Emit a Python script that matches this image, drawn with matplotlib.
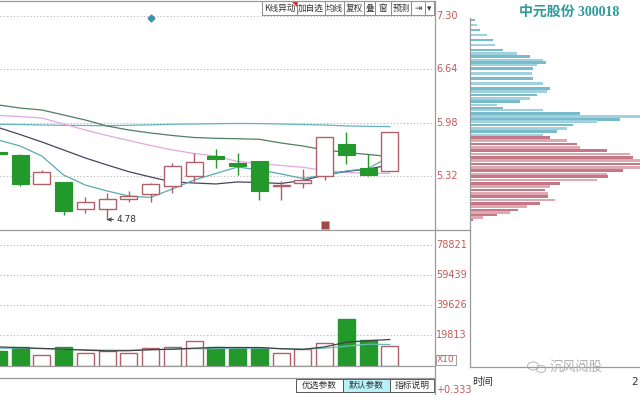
import matplotlib
matplotlib.use("Agg")
import matplotlib.pyplot as plt
import numpy as np
from matplotlib.patches import Rectangle, Ellipse

plt.rcParams['font.family'] = ['Noto Sans CJK SC', 'DejaVu Sans']

# ---- daily candles (last one is today) ----
opens  = [5.62, 5.58, 5.22, 5.25, 4.91, 4.91, 5.04, 5.10, 5.19, 5.32, 5.57, 5.48, 5.50, 5.19, 5.23, 5.32, 5.71, 5.42, 5.38]
closes = [5.59, 5.22, 5.37, 4.89, 5.00, 5.04, 5.07, 5.22, 5.44, 5.49, 5.53, 5.44, 5.14, 5.20, 5.27, 5.80, 5.58, 5.33, 5.86]
highs  = [5.63, 5.59, 5.39, 5.25, 5.06, 5.11, 5.14, 5.23, 5.48, 5.61, 5.65, 5.61, 5.51, 5.26, 5.40, 5.80, 5.86, 5.59, 5.86]
lows   = [5.57, 5.19, 5.22, 4.84, 4.86, 4.78, 5.00, 5.00, 5.11, 5.25, 5.42, 5.33, 5.02, 5.02, 5.17, 5.27, 5.47, 5.32, 5.38]

ma5  = [5.765, 5.691, 5.567, 5.332, 5.208, 5.134, 5.072, 5.054, 5.159, 5.270, 5.351, 5.431, 5.394, 5.345, 5.289, 5.332, 5.382, 5.413, 5.559]
ma10 = [5.920, 5.833, 5.741, 5.642, 5.543, 5.456, 5.373, 5.307, 5.246, 5.233, 5.221, 5.246, 5.239, 5.227, 5.264, 5.332, 5.376, 5.406, 5.456]
ma20 = [6.069, 6.056, 6.038, 5.963, 5.889, 5.821, 5.759, 5.697, 5.642, 5.598, 5.567, 5.499, 5.474, 5.450, 5.427, 5.388, 5.363, 5.353, 5.353]
ma30 = [6.199, 6.161, 6.137, 6.075, 6.013, 5.939, 5.889, 5.852, 5.821, 5.796, 5.786, 5.781, 5.774, 5.728, 5.691, 5.642, 5.611, 5.586, 5.559]
ma60 = [5.960, 5.957, 5.951, 5.947, 5.945, 5.942, 5.947, 5.953, 5.960, 5.963, 5.967, 5.970, 5.968, 5.963, 5.957, 5.951, 5.939, 5.935, 5.930]

volumes = [9546, 11770, 7190, 12160, 8500, 9550, 8240, 11120, 12420, 15890, 11970, 11310, 11310, 7850, 10660, 14780, 30080, 16540, 12620]
vol_ma5  = [12160, 11640, 11180, 10660, 10000, 9550, 9680, 10330, 10660, 11310, 11770, 11770, 11770, 10990, 10530, 12160, 15240, 16220, 17000]
vol_ma10 = [11310, 11310, 10990, 10660, 10330, 10000, 10000, 10330, 10660, 10990, 10990, 11310, 11310, 10990, 10660, 11310, 12620, 13930, 13730]

price_ticks = [7.30, 6.64, 5.98, 5.32]
price_labels = ["7.30", "6.64", "5.98", "5.32"]
vol_ticks = [78821, 59439, 39626, 19813]
vol_labels = ["78821", "59439", "39626", "19813"]

low_mark = 4.78

# ---- chip distribution (price level, bar length) ----
chip_prices = [7.250, 7.189, 7.127, 7.065, 7.003, 6.941, 6.879, 6.838, 6.796, 6.755, 6.722, 6.694,
               6.653, 6.591, 6.529, 6.467, 6.405, 6.363, 6.322, 6.281, 6.239, 6.199, 6.158, 6.137,
               6.096, 6.054, 6.022, 5.992, 5.951, 5.910, 5.868, 5.827,
               5.799, 5.757, 5.716, 5.675, 5.633, 5.592, 5.551, 5.509, 5.468, 5.427, 5.385, 5.345,
               5.311, 5.270, 5.229, 5.187, 5.147, 5.106, 5.064, 5.023, 4.982, 4.940, 4.899, 4.866,
               4.837, 4.809, 4.775]
chip_lens = [5, 7, 10, 17, 23, 25, 33, 47, 60, 73, 76, 67,
             63, 62, 63, 73, 80, 77, 67, 60, 50, 27, 33, 73,
             110, 170, 150, 127, 103, 97, 87, 73,
             80, 97, 107, 110, 137, 160, 163, 170, 170, 170, 153, 137,
             138, 127, 90, 80, 75, 78, 78, 85, 70, 57, 48, 40,
             27, 13, 3]
chip_split = 5.81

W, H = 640, 395
fig = plt.figure(figsize=(6.4, 3.95), dpi=100)


def px_axes(x0, y0, x1, y1):
    a = fig.add_axes([x0 / W, 1 - y1 / H, (x1 - x0) / W, (y1 - y0) / H])
    a.axis('off')
    return a


GREEN = '#22992a'
RED = '#b0606a'
GRID = '#b4b4b4'
LBL = '#c05a5a'

x = np.arange(len(opens))
xlim = (0.078, 20.03)
plim = (4.651, 7.486)

# price panel
ax = px_axes(0, 1, 434, 230)
ax.set_xlim(*xlim)
ax.set_ylim(*plim)
for lv, lb in zip(price_ticks, price_labels):
    ax.axhline(lv, color=GRID, lw=0.8, ls=(0, (1, 2)), zorder=0)
    ax.text(1.005, lv, lb, transform=ax.get_yaxis_transform(), color=LBL,
            fontsize=7, family='DejaVu Sans', va='center', ha='left', clip_on=False)

ax.plot(x, ma60, color='#62b4bc', lw=0.9, zorder=2)
ax.plot(x, ma30, color='#4f7f62', lw=0.9, zorder=2)
ax.plot(x, ma20, color='#e2a6e2', lw=0.9, zorder=2)
ax.plot(x, ma10, color='#4a4262', lw=0.9, zorder=2)
ax.plot(x, ma5, color='#5aaab4', lw=0.9, zorder=2)

bw = 0.78
for i in x:
    o, c, h, l = opens[i], closes[i], highs[i], lows[i]
    lo, hi = min(o, c), max(o, c)
    body = max(hi - lo, 0.012)
    if c < o:
        ax.vlines(i, l, h, color=GREEN, lw=1.0, zorder=3)
        ax.add_patch(Rectangle((i - bw / 2, lo), bw, body, fc=GREEN, ec=GREEN, lw=0.8, zorder=4))
    else:
        ax.vlines(i, l, lo, color=RED, lw=1.0, zorder=3)
        ax.vlines(i, hi, h, color=RED, lw=1.0, zorder=3)
        ax.add_patch(Rectangle((i - bw / 2, lo), bw, body, fc='white', ec=RED, lw=1.0, zorder=4))

low_i = int(np.argmin(lows))
ax.annotate(f"{low_mark:.2f}", xy=(low_i, low_mark), xytext=(low_i + 0.42, low_mark),
            fontsize=6.5, color='#333333', family='DejaVu Sans', va='center', ha='left',
            arrowprops=dict(arrowstyle='->', color='#333333', lw=0.7, shrinkA=0, shrinkB=0,
                            mutation_scale=6))
ax.plot(7, 7.275, marker='D', ms=3.5, color='#3a8fb0', zorder=5)
ax.plot(15, 4.713, marker='s', ms=6, color='#a04848', mec='#d9a0a0', mew=0.6,
        zorder=5, clip_on=False)

# volume panel
axv = px_axes(0, 230, 434, 365.5)
axv.set_xlim(*xlim)
axv.set_ylim(0, 88600)
for lv, lb in zip(vol_ticks, vol_labels):
    axv.axhline(lv, color=GRID, lw=0.8, ls=(0, (1, 2)), zorder=0)
    axv.text(1.005, lv, lb, transform=axv.get_yaxis_transform(), color=LBL,
             fontsize=7, family='DejaVu Sans', va='center', ha='left', clip_on=False)
down = [c < o for o, c in zip(opens, closes)]
axv.bar(x, volumes, width=bw, color=[GREEN if d else 'white' for d in down],
        edgecolor=[GREEN if d else RED for d in down], lw=1.0, zorder=2)
axv.plot(x, vol_ma10, color='#6ab8b8', lw=0.9, zorder=3)
axv.plot(x, vol_ma5, color='#404040', lw=0.9, zorder=3)

# chip distribution panel
axc = px_axes(470.5, 1, 640, 230)
axc.set_xlim(0, 170)
axc.set_ylim(*plim)
chip_cols = []
for k, p in enumerate(chip_prices):
    if p > chip_split:
        chip_cols.append('#9fd2de' if k % 2 else '#78bccc')
    else:
        chip_cols.append('#e0a8b0' if k % 2 else '#c47886')
axc.barh(chip_prices, chip_lens, height=0.034, color=chip_cols, left=0)

# frame, toolbar and labels in pixel coordinates
ov = fig.add_axes([0, 0, 1, 1])
ov.set_xlim(0, W)
ov.set_ylim(H, 0)
ov.axis('off')
LN = '#9a9a9a'
for xs, ys in [((0, 434.5), (1, 1)), ((434.5, 434.5), (1, 395)), ((0, 470), (230, 230)),
               ((0, 434.5), (366, 366)), ((0, 434.5), (378, 378)), ((470, 470), (18, 367)),
               ((470, 640), (367, 367))]:
    ov.plot(xs, ys, color=LN, lw=0.9)

buttons = [(262, 297, "K线异动"), (297, 325, "加自选"), (325, 344, "均线"), (344, 364, "复权"),
           (364, 375, "叠"), (375, 391, "窗"), (391, 411, "预测"), (411, 425, "⇥"), (425, 434, "▾")]
for x0, x1, t in buttons:
    ov.add_patch(Rectangle((x0, 1), x1 - x0, 14, fc='white', ec='#8c8c8c', lw=0.7))
    ov.text((x0 + x1) / 2, 8.5, t, fontsize=6.2, color='#333333', ha='center', va='center')
ov.fill([292, 297, 297], [1.5, 1.5, 6.5], color='#d03030', lw=0)

for x0, x1, t, bg in [(296, 343, "优选参数", 'white'), (343, 390, "默认参数", '#b6f2f8'),
                      (390, 434, "指标说明", 'white')]:
    ov.add_patch(Rectangle((x0, 379), x1 - x0, 13, fc=bg, ec='#555555', lw=0.7))
    ov.text((x0 + x1) / 2, 385.5, t, fontsize=6.3, color='#333333', ha='center', va='center')

ov.text(437, 360, "X10", fontsize=6.5, color=LBL, family='DejaVu Sans', va='center', ha='left',
        bbox=dict(boxstyle='square,pad=0.1', fc='white', ec='#909090', lw=0.6))
ov.text(436, 390, "+0.333", fontsize=7, color=LBL, family='DejaVu Sans', va='center', ha='left')
ov.text(472, 382, "时间", fontsize=7.5, color='#333333', va='center', ha='left')
ov.text(631, 382, "2", fontsize=7.5, color='#333333', va='center', ha='left', family='DejaVu Sans')

ov.add_patch(Ellipse((533, 366), 11, 8, fill=False, ec='#bdbdbd', lw=0.8))
ov.add_patch(Ellipse((541, 369), 9, 7, fill=False, ec='#bdbdbd', lw=0.8))
ov.text(550, 367, "沉风阅股", fontsize=9.5, color='#b0b0b0', va='center', ha='left')

ov.text(519, 12, "中元股份 300018", fontsize=10, fontweight='bold', color='#2f9a9a',
        family=['Liberation Serif', 'Noto Sans CJK SC'], va='center', ha='left')

fig.savefig("out.png", dpi=100, facecolor='white')
